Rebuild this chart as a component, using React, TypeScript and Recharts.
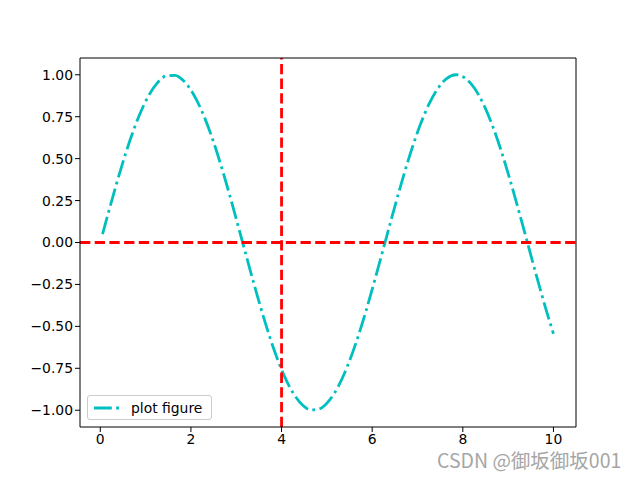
import React from "react";
import { LineChart, Line, XAxis, YAxis, ReferenceLine } from "recharts";

const xValues = [
  0.05, 0.25, 0.45, 0.65, 0.85, 1.05, 1.25, 1.45, 1.65, 1.85,
  2.05, 2.25, 2.45, 2.65, 2.85, 3.05, 3.25, 3.45, 3.65, 3.85,
  4.05, 4.25, 4.45, 4.65, 4.85, 5.05, 5.25, 5.45, 5.65, 5.85,
  6.05, 6.25, 6.45, 6.65, 6.85, 7.05, 7.25, 7.45, 7.65, 7.85,
  8.05, 8.25, 8.45, 8.65, 8.85, 9.05, 9.25, 9.45, 9.65, 9.85, 10.0,
];
const yValues = [
  0.05, 0.247, 0.435, 0.605, 0.751, 0.867, 0.949, 0.993, 0.997, 0.961,
  0.887, 0.778, 0.638, 0.472, 0.288, 0.091, -0.108, -0.303, -0.487, -0.651,
  -0.789, -0.895, -0.966, -0.998, -0.99, -0.943, -0.859, -0.74, -0.592, -0.42,
  -0.231, -0.033, 0.166, 0.359, 0.537, 0.694, 0.823, 0.919, 0.979, 1.0,
  0.981, 0.923, 0.828, 0.7, 0.544, 0.366, 0.174, -0.025, -0.223, -0.412, -0.544,
];
const xTicks = [0, 2, 4, 6, 8, 10];
const yTicks = [-1, -0.75, -0.5, -0.25, 0, 0.25, 0.5, 0.75, 1];
const seriesName = "plot figure";
const vLineX = 4;
const hLineY = 0;

const data = xValues.map((x, i) => ({ x, y: yValues[i] }));

const fmtY = (v: number) => {
  const s = Math.abs(v).toFixed(2);
  return v < 0 ? "\u2212" + s : s;
};

const FONT = "'DejaVu Sans', sans-serif";
const X_DOMAIN: [number, number] = [-0.4475, 10.4975];
const Y_DOMAIN: [number, number] = [-1.1, 1.1];

const LegendBox = () => (
  <div
    style={{
      position: "absolute",
      left: 87,
      top: 395,
      border: "1px solid #cccccc",
      borderRadius: 3,
      background: "rgba(255,255,255,0.8)",
      display: "flex",
      alignItems: "center",
      height: 25,
      padding: "0 9px 0 5px",
      fontFamily: FONT,
      fontSize: 13.9,
      color: "#000",
      boxSizing: "border-box",
      whiteSpace: "nowrap",
    }}
  >
    <svg width={28} height={6} style={{ marginRight: 10 }}>
      <line x1={1} y1={3} x2={27} y2={3} stroke="#00BFBF" strokeWidth={2.8} strokeDasharray="17.8 4.4 2.8 4.4" />
    </svg>
    <span>{seriesName}</span>
  </div>
);

export default function App() {
  return (
    <div style={{ position: "absolute", left: 0, top: 0, width: 640, height: 480, background: "#fff" }}>
      <LineChart
        width={640}
        height={480}
        data={data}
        margin={{ top: 57, right: 63, bottom: 23, left: 0 }}
      >
        <XAxis
          dataKey="x"
          type="number"
          domain={X_DOMAIN}
          ticks={xTicks}
          allowDataOverflow
          height={30}
          tickSize={5}
          tick={{ fill: "#000", fontSize: 13.9, fontFamily: FONT }}
          tickLine={{ stroke: "#000" }}
          axisLine={{ stroke: "#000" }}
        />
        <XAxis
          xAxisId="top"
          orientation="top"
          dataKey="x"
          type="number"
          domain={X_DOMAIN}
          allowDataOverflow
          height={1}
          tick={false}
          tickLine={false}
          axisLine={{ stroke: "#000" }}
        />
        <YAxis
          type="number"
          domain={Y_DOMAIN}
          ticks={yTicks}
          allowDataOverflow
          width={80}
          tickSize={5}
          tickFormatter={fmtY}
          tick={{ fill: "#000", fontSize: 13.9, fontFamily: FONT }}
          tickLine={{ stroke: "#000" }}
          axisLine={{ stroke: "#000" }}
        />
        <YAxis
          yAxisId="right"
          orientation="right"
          type="number"
          domain={Y_DOMAIN}
          allowDataOverflow
          width={1}
          tick={false}
          tickLine={false}
          axisLine={{ stroke: "#000" }}
        />
        <Line
          type="monotone"
          dataKey="y"
          name={seriesName}
          stroke="#00BFBF"
          strokeWidth={2.8}
          strokeDasharray="17.8 4.4 2.8 4.4"
          dot={false}
          isAnimationActive={false}
        />
        <ReferenceLine y={hLineY} stroke="#FF0000" strokeWidth={2.8} strokeDasharray="10.3 4.4" />
        <ReferenceLine x={vLineX} stroke="#FF0000" strokeWidth={2.8} strokeDasharray="10.3 4.4" />
      </LineChart>
      <LegendBox />
      <div
        style={{
          position: "absolute",
          left: 437,
          top: 447,
          fontFamily: "'Noto Sans CJK SC', 'DejaVu Sans', sans-serif",
          fontSize: 19.5,
          color: "#a6a6a6",
          whiteSpace: "nowrap",
          lineHeight: "26px",
        }}
      >
        CSDN @御坂御坂001
      </div>
    </div>
  );
}
